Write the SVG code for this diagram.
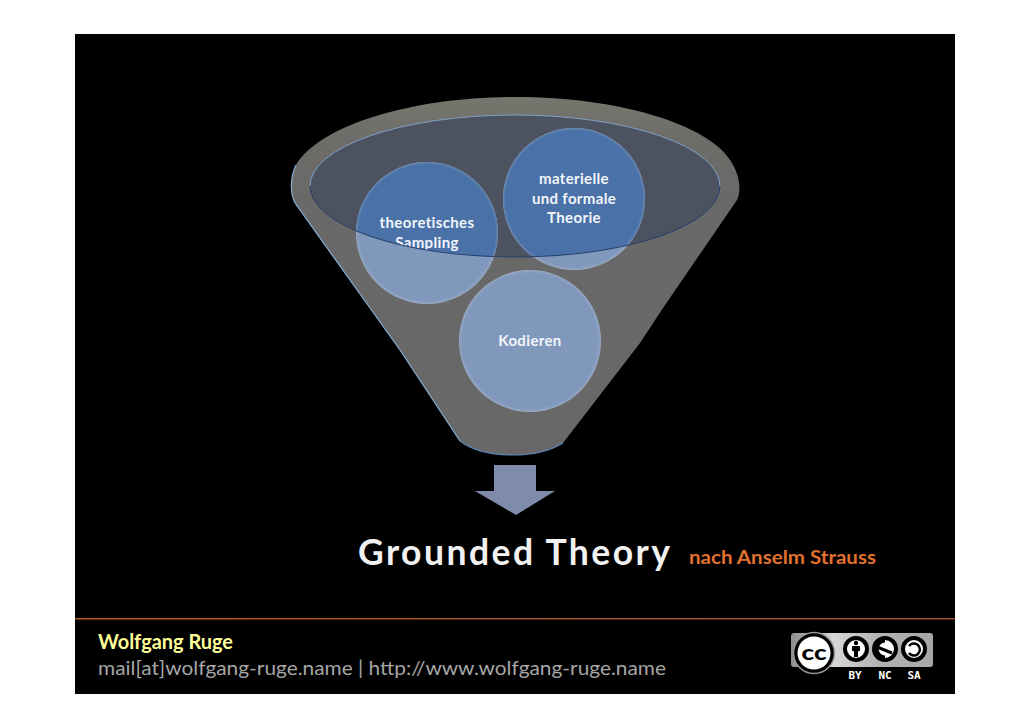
<svg xmlns="http://www.w3.org/2000/svg" width="1030" height="728" viewBox="0 0 1030 728">
<style>
text{font-family:Lato,"Open Sans","Liberation Sans",sans-serif}
.lbl{fill:#f2f5f9;font-weight:700;font-size:15px;text-anchor:middle;letter-spacing:.35px}
.cc{font-family:"DejaVu Sans Mono","Liberation Mono",monospace;font-size:11px;font-weight:700;fill:#fff;text-anchor:middle}
.ring{fill:#fff;stroke:#000;stroke-width:4}
</style>
<defs>
<clipPath id="inner"><ellipse cx="515" cy="186" rx="205" ry="71"/></clipPath>
<linearGradient id="rim" x1="0" y1="0" x2="0" y2="1"><stop offset="0" stop-color="#77766d"/><stop offset=".12" stop-color="#6d6c68"/><stop offset=".3" stop-color="#696969"/><stop offset="1" stop-color="#686868"/></linearGradient>
<linearGradient id="badge" x1="0" y1="0" x2="1" y2="0"><stop offset="0" stop-color="#8e8e8e"/><stop offset=".3" stop-color="#d8d8d8"/><stop offset=".6" stop-color="#b4b4b4"/><stop offset="1" stop-color="#a6a6a6"/></linearGradient>
<linearGradient id="rule" x1="0" y1="0" x2="1" y2="0"><stop offset="0" stop-color="#b5562a"/><stop offset="1" stop-color="#9c4d28"/></linearGradient>
<radialGradient id="lightC"><stop offset=".95" stop-color="#8198bd"/><stop offset=".985" stop-color="#8da1c0"/><stop offset="1" stop-color="#a3b1c8"/></radialGradient>
<radialGradient id="darkC"><stop offset=".96" stop-color="#4a72a8"/><stop offset="1" stop-color="#6584ad"/></radialGradient>
</defs>
<rect width="1030" height="728" fill="#fff"/>
<rect id="slide" x="75" y="34" width="880" height="660" fill="#000"/>
<g id="funnel">
<path d="M295 203C290 193 290 178 296 165C320 125 412 97 516 97C620 97 708 125 730 160C741 176 741 192 737 200L663 308L640 343L563 443C550 451 533 455 513 455C492 455 473 451 460 441L400 350L370 308Z" fill="url(#rim)"/>
<path d="M460 441C473 451 492 455 513 455C533 455 550 451 563 443" fill="none" stroke="#5b86b8" stroke-width="1.2"/>
<path d="M460 441L400 350L370 308L295 203C290 193 290 178 296 165" fill="none" stroke="#86b0d6" stroke-width="1.2"/>
<ellipse cx="515" cy="186" rx="205" ry="71" fill="#4c5260"/>
<path d="M310 186A205 71 0 0 1 720 186" fill="none" stroke="#7ea2c8" stroke-width="1"/>
</g>
<g id="node-sampling">
<circle cx="427" cy="233" r="71" fill="url(#lightC)"/>
<circle cx="427" cy="233" r="71" fill="url(#darkC)" clip-path="url(#inner)"/>
<g clip-path="url(#inner)"><text class="lbl" x="427" y="228">theoretisches</text><text class="lbl" x="427" y="248">Sampling</text></g>
</g>
<g id="node-theorie">
<circle cx="574" cy="199" r="71" fill="url(#lightC)"/>
<circle cx="574" cy="199" r="71" fill="url(#darkC)" clip-path="url(#inner)"/>
<text class="lbl" x="574" y="184">materielle</text><text class="lbl" x="574" y="204">und formale</text><text class="lbl" x="574" y="223">Theorie</text>
</g>
<path d="M310 186A205 71 0 0 0 720 186" fill="none" stroke="#26406a" stroke-width="1"/>
<g id="node-kodieren">
<circle cx="530" cy="341" r="71" fill="url(#lightC)"/>
<text class="lbl" x="530" y="346">Kodieren</text>
</g>
<g id="connectors">
<path d="M494 465H536V491H555L516 515L475 491H494Z" fill="#7f8bab"/>
</g>
<g id="title">
<text x="358" y="565" font-size="35.5" font-weight="700" fill="#f2f2f2" textLength="312">Grounded Theory</text>
<text x="689" y="564" font-size="18" font-weight="700" fill="#e0702e" textLength="187" lengthAdjust="spacingAndGlyphs">nach Anselm Strauss</text>
</g>
<rect id="footer-rule" x="75" y="618" width="880" height="1.5" fill="url(#rule)"/>
<g id="footer">
<text x="98" y="649" font-size="20" font-weight="700" fill="#ffff99" textLength="135" lengthAdjust="spacingAndGlyphs">Wolfgang Ruge</text>
<text x="98" y="675" font-size="20" fill="#a6a6a6" textLength="568" lengthAdjust="spacingAndGlyphs">mail[at]wolfgang-ruge.name | http://www.wolfgang-ruge.name</text>
</g>
<g id="cc-badge">
<rect x="791" y="633" width="142" height="34" rx="3" fill="url(#badge)"/>
<circle cx="814" cy="653" r="20.5" fill="#000" stroke="#9a9a9a" stroke-width="1.5"/>
<circle cx="814" cy="653" r="16.5" fill="#fff"/>
<text x="814" y="660" font-size="20" font-weight="900" fill="#000" text-anchor="middle" textLength="25" lengthAdjust="spacingAndGlyphs">cc</text>
<circle class="ring" cx="856" cy="649" r="11"/>
<circle cx="856" cy="643" r="2.2" fill="#000"/><path d="M852 646H860V651H858V657H854V651H852Z" fill="#000"/>
<circle class="ring" cx="885" cy="649" r="11"/>
<path d="M877 647L892 653M885 641A8 8 0 0 0 885 657" fill="none" stroke="#000" stroke-width="3"/>
<circle class="ring" cx="914" cy="649" r="11"/>
<path d="M909 646A6 6 0 1 1 909 653" fill="none" stroke="#000" stroke-width="2.5"/>
<text class="cc" x="855" y="679">BY</text><text class="cc" x="885" y="679">NC</text><text class="cc" x="914" y="679">SA</text>
</g>
</svg>
